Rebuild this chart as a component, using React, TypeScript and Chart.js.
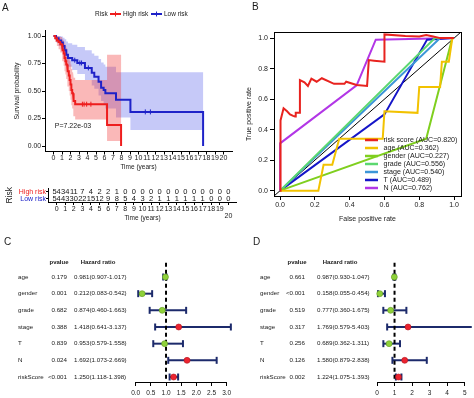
import React, { useEffect, useRef } from 'react';
import { Chart, registerables } from 'chart.js';

Chart.register(...registerables);

const FONT = '"Liberation Sans", Arial, Helvetica, sans-serif';
const INK = '#1a1a1a';
const RED = '#ee1d1d';
const BLUE = '#1e22c8';
const RED_BAND = 'rgba(240,40,40,0.33)';
const BLUE_BAND = 'rgba(50,60,230,0.28)';

// ===== Panel A: Kaplan-Meier =====
const highRiskTime = [0, 0.2, 0.4, 0.6, 0.8, 1.0, 1.1, 1.2, 1.3, 1.4, 1.5, 1.6, 1.7, 1.8, 1.9, 2.0, 2.1, 2.2, 2.3, 2.4, 2.55, 6.3, 7.95];
const highRiskSurv = [1, 0.98, 0.96, 0.945, 0.925, 0.9, 0.87, 0.84, 0.8, 0.77, 0.74, 0.71, 0.68, 0.64, 0.6, 0.56, 0.51, 0.48, 0.45, 0.41, 0.38, 0.19, 0];
const highRiskUpper = [1, 1, 1, 0.995, 0.99, 0.98, 0.965, 0.95, 0.93, 0.91, 0.89, 0.86, 0.83, 0.8, 0.77, 0.74, 0.7, 0.67, 0.65, 0.62, 0.6, 0.83, 0.83];
const highRiskLower = [1, 0.945, 0.91, 0.88, 0.85, 0.81, 0.77, 0.73, 0.68, 0.65, 0.61, 0.58, 0.54, 0.5, 0.46, 0.42, 0.37, 0.34, 0.31, 0.27, 0.24, 0.045, 0.045];
const lowRiskTime = [0, 0.3, 0.6, 0.9, 1.1, 1.3, 1.5, 1.7, 2.2, 2.8, 3.7, 4.5, 4.8, 5.3, 5.6, 5.9, 6.1, 7.35, 9.05, 17.6];
const lowRiskSurv = [1, 0.98, 0.96, 0.94, 0.91, 0.87, 0.83, 0.8, 0.78, 0.755, 0.71, 0.665, 0.63, 0.585, 0.53, 0.51, 0.48, 0.42, 0.31, 0];
const lowRiskUpper = [1, 1, 1, 0.995, 0.985, 0.97, 0.95, 0.935, 0.92, 0.9, 0.87, 0.84, 0.82, 0.79, 0.76, 0.74, 0.72, 0.67, 0.67, 0.67];
const lowRiskLower = [1, 0.94, 0.91, 0.88, 0.84, 0.8, 0.76, 0.72, 0.69, 0.655, 0.6, 0.55, 0.52, 0.46, 0.41, 0.38, 0.34, 0.26, 0.145, 0.145];
const highCensorTime = [3.4, 3.6, 3.9, 4.4];
const highCensorSurv = [0.38, 0.38, 0.38, 0.38];
const lowCensorTime = [2.5, 3.1, 3.3, 4.1, 10.8, 11.4];
const lowCensorSurv = [0.78, 0.755, 0.755, 0.71, 0.31, 0.31];
const survTicks = [0, 0.25, 0.5, 0.75, 1];
const pValueText = 'P=7.22e-03';

// Risk table
const riskGroups = ['High risk', 'Low risk'];
const riskHigh = [54, 34, 11, 7, 4, 2, 2, 1, 0, 0, 0, 0, 0, 0, 0, 0, 0, 0, 0, 0, 0];
const riskLow = [54, 43, 30, 22, 15, 12, 9, 8, 5, 4, 3, 2, 1, 1, 1, 1, 1, 1, 0, 0, 0];

// ===== Panel B: ROC =====
const rocNames = ['risk score', 'age', 'gender', 'grade', 'stage', 'T', 'N'];
const rocAuc = [0.820, 0.362, 0.227, 0.556, 0.540, 0.489, 0.762];
const rocColors = ['#e8231f', '#f2c200', '#7fcf1e', '#5cd870', '#3c96d8', '#1515c8', '#b236e6'];
const riskScoreFpr = [0, 0, 0.005, 0.02, 0.04, 0.057, 0.075, 0.086, 0.09, 0.113, 0.114, 0.14, 0.16, 0.18, 0.21, 0.24, 0.31, 0.37, 0.38, 0.44, 0.5, 0.51, 0.54, 0.6, 0.6, 0.72, 0.8, 0.84, 0.88, 0.92, 1.0];
const riskScoreTpr = [0, 0.46, 0.46, 0.54, 0.52, 0.5, 0.49, 0.486, 0.51, 0.51, 0.725, 0.71, 0.686, 0.734, 0.714, 0.737, 0.70, 0.70, 0.714, 0.693, 0.686, 0.856, 0.852, 0.845, 1.024, 1.013, 1.01, 1.02, 1.01, 1.0, 1.0];
const ageFpr = [0, 0.22, 0.25, 0.3, 0.34, 0.59, 0.6, 0.79, 0.8, 0.92, 0.93, 0.97, 0.99, 1];
const ageTpr = [0, 0, 0.17, 0.17, 0.34, 0.34, 0.52, 0.51, 0.68, 0.68, 0.845, 0.845, 1, 1];
const genderFpr = [0, 0.84, 0.99, 1];
const genderTpr = [0, 0.34, 1, 1];
const gradeFpr = [0, 0.89, 1];
const gradeTpr = [0, 1, 1];
const stageFpr = [0, 0.92, 1];
const stageTpr = [0, 1, 1];
const tFpr = [0, 0.6, 0.845, 1];
const tTpr = [0, 0.5, 0.99, 1];
const nFpr = [0, 0, 0.44, 0.55, 1];
const nTpr = [0, 0.31, 0.69, 0.99, 1];
const rateTicks = [0, 0.2, 0.4, 0.6, 0.8, 1.0];

// ===== Panels C / D: forest plots =====
const coxVars = ['age', 'gender', 'grade', 'stage', 'T', 'N', 'riskScore'];
const uniP = ['0.179', '0.001', '0.682', '0.388', '0.839', '0.024', '<0.001'];
const uniHR = [0.981, 0.212, 0.874, 1.418, 0.953, 1.692, 1.250];
const uniLow = [0.907, 0.083, 0.460, 0.641, 0.579, 1.073, 1.118];
const uniHigh = [1.017, 0.542, 1.663, 3.137, 1.558, 2.669, 1.398];
const multiP = ['0.661', '<0.001', '0.519', '0.317', '0.256', '0.126', '0.002'];
const multiHR = [0.987, 0.158, 0.777, 1.769, 0.689, 1.580, 1.224];
const multiLow = [0.930, 0.055, 0.360, 0.579, 0.362, 0.879, 1.075];
const multiHigh = [1.047, 0.454, 1.675, 5.403, 1.311, 2.838, 1.393];

const NAVY = '#1c2a6b';
const GREEN_PT = '#8fd13a';
const RED_PT = '#ec2430';

const font = (size: number, weight: string = 'normal', lineHeight: number = 1.2) => ({ family: FONT, size, weight, lineHeight });
const pts = (xs: number[], ys: any[]) => xs.map((x, i) => ({ x, y: ys[i] }));
// right-continuous step path: each value holds until the next time point
const stepPts = (xs: number[], ys: number[]) => {
  const out: any[] = [];
  xs.forEach((x, i) => {
    if (i > 0) out.push({ x, y: ys[i - 1] });
    out.push({ x, y: ys[i] });
  });
  return out;
};
// closed band outline: upper step path forward, lower step path back
const bandShape = (xs: number[], upper: number[], lower: number[]) => [...stepPts(xs, upper), ...stepPts(xs, lower).reverse()];

function axis(size: number, tickLength: number, padding: number): any {
  return {
    grid: { display: true, drawOnChartArea: false, drawTicks: true, tickLength, color: '#000', lineWidth: 1 },
    border: { display: true, color: '#000', width: 1 },
    ticks: { color: INK, font: font(size), padding, autoSkip: false, maxRotation: 0, minRotation: 0 },
  };
}

function drawText(ctx: any, text: string, x: number, y: number, size: number, opts: any = {}) {
  ctx.save();
  ctx.font = `${opts.bold ? 'bold ' : ''}${size}px ${FONT}`;
  ctx.fillStyle = opts.color || INK;
  ctx.textAlign = opts.align || 'left';
  ctx.textBaseline = 'middle';
  ctx.fillText(text, x, y);
  ctx.restore();
}

const baseOptions = {
  responsive: false,
  animation: false,
  devicePixelRatio: 1,
  events: [],
  plugins: { legend: { display: false }, tooltip: { enabled: false } },
};

function kmConfig(): any {
  const stepLine = (data: any, color: string) => ({ data, borderColor: color, borderWidth: 2, pointRadius: 0, fill: false, tension: 0 });
  const band = (data: any, bg: string) => ({ data, borderColor: 'rgba(0,0,0,0)', borderWidth: 0, pointRadius: 0, fill: 'shape', backgroundColor: bg, tension: 0 });
  const censor = (data: any, color: string) => ({ data, showLine: false, pointStyle: 'line', pointRotation: 90, pointRadius: 2.5, pointBorderWidth: 1, pointBorderColor: color, pointBackgroundColor: color });
  const decor = {
    id: 'kmDecor',
    afterDraw(chart: any) {
      const ctx = chart.ctx;
      const xs = chart.scales.x, ys = chart.scales.y;
      drawText(ctx, 'A', 2, 8, 10);
      drawText(ctx, pValueText, xs.getPixelForValue(0.15), ys.getPixelForValue(0.18), 7);
      const ly = 14;
      drawText(ctx, 'Risk', 95, ly, 6.5);
      const sample = (x0: number, color: string) => {
        ctx.save();
        ctx.strokeStyle = color; ctx.lineWidth = 2;
        ctx.beginPath(); ctx.moveTo(x0, ly); ctx.lineTo(x0 + 11, ly); ctx.stroke();
        ctx.lineWidth = 1;
        ctx.beginPath(); ctx.moveTo(x0 + 5.5, ly - 2.5); ctx.lineTo(x0 + 5.5, ly + 2.5); ctx.stroke();
        ctx.restore();
      };
      sample(110, RED);
      drawText(ctx, riskGroups[0], 123, ly, 6.5);
      sample(151, BLUE);
      drawText(ctx, riskGroups[1], 164, ly, 6.5);
    },
  };
  return {
    type: 'line',
    data: {
      datasets: [
        stepLine(stepPts(highRiskTime, highRiskSurv), RED),
        stepLine(stepPts(lowRiskTime, lowRiskSurv), BLUE),
        censor(pts(highCensorTime, highCensorSurv), RED),
        censor(pts(lowCensorTime, lowCensorSurv), BLUE),
        band(bandShape(highRiskTime, highRiskUpper, highRiskLower), RED_BAND),
        band(bandShape(lowRiskTime, lowRiskUpper, lowRiskLower), BLUE_BAND),
      ],
    },
    options: {
      ...baseOptions,
      layout: { padding: { top: 30.5, right: 1, left: 0, bottom: 0 } },
      scales: {
        x: {
          type: 'linear', min: -1, max: 21,
          ...axis(7, 3, 0),
          ticks: { ...axis(7, 3, 0).ticks, stepSize: 1, font: font(7, 'normal', 1) },
          afterBuildTicks: (s: any) => { s.ticks = s.ticks.filter((t: any) => t.value >= 0 && t.value <= 20); },
          afterFit: (s: any) => { s.height = 26.5; },
          title: { display: true, text: 'Time (years)', color: INK, font: font(6.5), padding: { top: 0, bottom: 7.1 } },
        },
        y: {
          type: 'linear', min: -0.05, max: 1.05,
          ...axis(6.8, 3, 1),
          ticks: { ...axis(6.8, 3, 1).ticks, callback: (v: any) => Number(v).toFixed(2) },
          afterBuildTicks: (s: any) => { s.ticks = survTicks.map((v) => ({ value: v })); },
          afterFit: (s: any) => { s.width = 45; },
          title: { display: true, text: 'Survival probability', color: INK, font: font(6.8), padding: { top: 12.8, bottom: 0 } },
        },
      },
    },
    plugins: [decor],
  };
}

function tableConfig(): any {
  const numbers = {
    id: 'riskNumbers',
    afterDatasetsDraw(chart: any) {
      const ctx = chart.ctx;
      [riskHigh, riskLow].forEach((arr, d) => {
        const meta = chart.getDatasetMeta(d);
        arr.forEach((n, i) => {
          const el = meta.data[i];
          drawText(ctx, String(n), el.x, el.y, 7.5, { align: 'center', color: '#111' });
        });
      });
    },
  };
  const hidden = (data: any) => ({ data, showLine: false, pointRadius: 0, borderColor: 'rgba(0,0,0,0)' });
  return {
    type: 'line',
    data: {
      datasets: [
        hidden(riskHigh.map((_, i) => ({ x: i, y: riskGroups[0] }))),
        hidden(riskLow.map((_, i) => ({ x: i, y: riskGroups[1] }))),
      ],
    },
    options: {
      ...baseOptions,
      layout: { padding: { top: 10.5, right: 0, left: 0, bottom: 0 } },
      scales: {
        x: {
          type: 'linear', min: -1, max: 21,
          ...axis(7, 3, 0.5),
          ticks: {
            ...axis(7, 3, 0.5).ticks, stepSize: 1, font: font(7, 'normal', 1),
            callback: (v: any) => (v === 20 ? ['', '20'] : String(v)),
          },
          afterBuildTicks: (s: any) => { s.ticks = s.ticks.filter((t: any) => t.value >= 0 && t.value <= 20); },
          afterFit: (s: any) => { s.height = 23; },
          title: { display: true, text: 'Time (years)', color: INK, font: font(6.5), padding: { top: 0, bottom: 3.1 } },
        },
        y: {
          type: 'category', labels: riskGroups, offset: true,
          ...axis(7, 2, 0),
          grid: { display: true, drawOnChartArea: false, drawTicks: true, tickLength: 2, color: '#000', offset: false },
          ticks: { ...axis(7, 2, 0).ticks, color: (c: any) => (c.index === 0 ? RED : BLUE) },
          afterFit: (s: any) => { s.width = 48; },
          title: { display: true, text: 'Risk', color: INK, font: font(8.5), padding: { top: 4.9, bottom: 0 } },
        },
      },
    },
    plugins: [numbers],
  };
}

function rocConfig(): any {
  const fprs = [riskScoreFpr, ageFpr, genderFpr, gradeFpr, stageFpr, tFpr, nFpr];
  const tprs = [riskScoreTpr, ageTpr, genderTpr, gradeTpr, stageTpr, tTpr, nTpr];
  const labels = rocNames.map((n, i) => `${n} (AUC=${rocAuc[i].toFixed(3)})`);
  const decor = {
    id: 'rocDecor',
    afterDatasetsDraw(chart: any) {
      const ctx = chart.ctx;
      const { left, top, right, bottom } = chart.chartArea;
      ctx.save();
      ctx.strokeStyle = '#000'; ctx.lineWidth = 1;
      ctx.strokeRect(Math.round(left) + 0.5, Math.round(top) + 0.5, Math.round(right - left), Math.round(bottom - top));
      ctx.restore();
    },
    afterDraw(chart: any) {
      const ctx = chart.ctx;
      drawText(ctx, 'B', 15, 7, 10);
      labels.forEach((lab, i) => {
        const y = 140 + 8 * i;
        ctx.save();
        ctx.strokeStyle = rocColors[i]; ctx.lineWidth = 2.5;
        ctx.beginPath(); ctx.moveTo(128, y); ctx.lineTo(141, y); ctx.stroke();
        ctx.restore();
        drawText(ctx, lab, 146.5, y, 7.1);
      });
    },
  };
  return {
    type: 'line',
    data: {
      datasets: [
        ...fprs.map((f, i) => ({ label: labels[i], data: pts(f, tprs[i]), borderColor: rocColors[i], borderWidth: 2, pointRadius: 0, tension: 0, fill: false })),
        { label: 'reference', data: [{ x: -0.035, y: -0.035 }, { x: 1.04, y: 1.04 }], borderColor: '#000', borderWidth: 1, pointRadius: 0, fill: false },
      ],
    },
    options: {
      ...baseOptions,
      layout: { padding: { top: 32, right: 13, left: 0, bottom: 0 } },
      scales: {
        x: {
          type: 'linear', min: -0.035, max: 1.04,
          ...axis(7, 4, 0.8),
          ticks: { ...axis(7, 4, 0.8).ticks, callback: (v: any) => Number(v).toFixed(1) },
          afterBuildTicks: (s: any) => { s.ticks = rateTicks.map((v) => ({ value: v })); },
          afterFit: (s: any) => { s.height = 34; },
          title: { display: true, text: 'False positive rate', color: INK, font: font(7), padding: { top: 0, bottom: 6.8 } },
        },
        y: {
          type: 'linear', min: -0.035, max: 1.04,
          ...axis(7, 4, 2),
          ticks: { ...axis(7, 4, 2).ticks, callback: (v: any) => Number(v).toFixed(1) },
          afterBuildTicks: (s: any) => { s.ticks = rateTicks.map((v) => ({ value: v })); },
          afterFit: (s: any) => { s.width = 37; },
          title: { display: true, text: 'True positive rate', color: INK, font: font(7), padding: { top: 7.8, bottom: 0 } },
        },
      },
    },
    plugins: [decor],
  };
}

function forestConfig(letter: string, pv: string[], hr: number[], lo: number[], hi: number[], xMax: number, step: number, digits: number, leftPad: number, cols: any): any {
  const decor = {
    id: 'forestText',
    afterDraw(chart: any) {
      const ctx = chart.ctx;
      const ys = chart.scales.y;
      drawText(ctx, letter, cols.letter, 12, 10);
      const hy = ys.getPixelForValue(-0.9);
      drawText(ctx, 'pvalue', cols.pHead, hy, 6, { bold: true, align: 'center' });
      drawText(ctx, 'Hazard ratio', cols.hrHead, hy, 6, { bold: true, align: 'center' });
      coxVars.forEach((name, i) => {
        const y = ys.getPixelForValue(i);
        drawText(ctx, name, cols.name, y, 6.2);
        drawText(ctx, pv[i], cols.pRight, y, 6.2, { align: 'right' });
        drawText(ctx, `${hr[i].toFixed(3)}(${lo[i].toFixed(3)}-${hi[i].toFixed(3)})`, cols.hr, y, 6.2);
      });
    },
  };
  const ciSets = coxVars.map((_, i) => ({
    data: [{ x: lo[i], y: i }, { x: hi[i], y: i }],
    borderColor: NAVY, borderWidth: 2, fill: false, clip: false,
    pointStyle: 'line', pointRotation: 90, pointRadius: 3.5, pointBorderWidth: 2, pointBorderColor: NAVY,
  }));
  const ptColors = hr.map((v) => (v < 1 ? GREEN_PT : RED_PT));
  return {
    type: 'line',
    data: {
      datasets: [
        { data: pts(hr, coxVars.map((_, i) => i)), showLine: false, pointStyle: 'circle', pointRadius: 3, pointBorderWidth: 0.6, pointBackgroundColor: ptColors, pointBorderColor: ptColors.map((c) => (c === GREEN_PT ? '#5f9a1e' : '#b0141c')), clip: false },
        { data: [{ x: 1, y: -0.85 }, { x: 1, y: 6.15 }], borderColor: '#000', borderWidth: 2, borderDash: [4, 3], pointRadius: 0, fill: false },
        ...ciSets,
      ],
    },
    options: {
      ...baseOptions,
      layout: { padding: { top: 32, right: 237 - leftPad - cols.plotWidth, left: leftPad, bottom: 0 } },
      scales: {
        x: {
          type: 'linear', min: 0, max: xMax,
          ...axis(6.5, 4, 3),
          ticks: { ...axis(6.5, 4, 3).ticks, stepSize: step, callback: (v: any) => Number(v).toFixed(digits) },
          afterFit: (s: any) => { s.height = 16; },
        },
        y: { type: 'linear', min: -0.9, max: 6.3, reverse: true, display: false },
      },
    },
    plugins: [decor],
  };
}

export default function App() {
  const aRef = useRef<HTMLCanvasElement>(null);
  const tRef = useRef<HTMLCanvasElement>(null);
  const bRef = useRef<HTMLCanvasElement>(null);
  const cRef = useRef<HTMLCanvasElement>(null);
  const dRef = useRef<HTMLCanvasElement>(null);

  useEffect(() => {
    const charts: any[] = [];
    charts.push(new Chart(aRef.current as any, kmConfig()));
    charts.push(new Chart(tRef.current as any, tableConfig()));
    charts.push(new Chart(bRef.current as any, rocConfig()));
    charts.push(new Chart(cRef.current as any, forestConfig('C', uniP, uniHR, uniLow, uniHigh, 3, 0.5, 1, 135.7,
      { letter: 4, pHead: 59, hrHead: 98, name: 18, pRight: 67, hr: 74, plotWidth: 91 })));
    charts.push(new Chart(dRef.current as any, forestConfig('D', multiP, multiHR, multiLow, multiHigh, 5, 1, 0, 140,
      { letter: 16, pHead: 60, hrHead: 103, name: 23, pRight: 68, hr: 80, plotWidth: 87.7 })));
    return () => charts.forEach((c) => c.destroy());
  }, []);

  const cs = (left: number, top: number): any => ({ position: 'absolute', left, top, display: 'block' });
  return (
    <div style={{ position: 'absolute', left: 0, top: 0, width: 474, height: 398, background: '#fff', overflow: 'hidden' }}>
      <canvas ref={aRef} width={237} height={178} style={cs(0, 0)} />
      <canvas ref={tRef} width={237} height={47} style={cs(0, 178)} />
      <canvas ref={bRef} width={237} height={230} style={cs(237, 0)} />
      <canvas ref={cRef} width={237} height={168} style={cs(0, 230)} />
      <canvas ref={dRef} width={237} height={168} style={cs(237, 230)} />
    </div>
  );
}
